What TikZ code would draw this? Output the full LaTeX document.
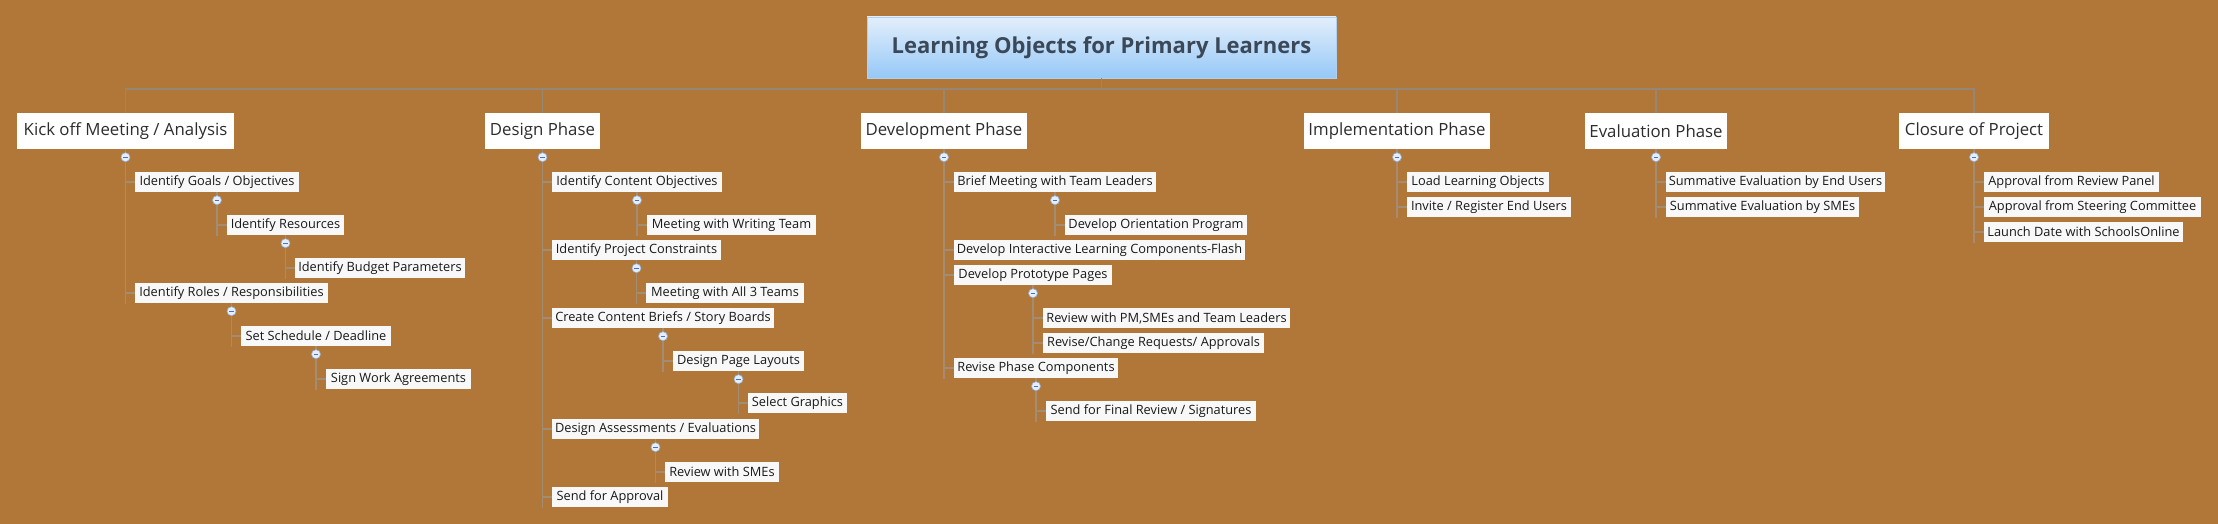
\documentclass[tikz,border=0pt]{standalone}
\usepackage{fontspec}
\setmainfont{Open Sans}
\definecolor{bg}{RGB}{176,119,56}
\definecolor{conncol}{RGB}{164,140,114}
\definecolor{barcol}{RGB}{150,134,116}
\definecolor{roottop}{RGB}{226,239,251}
\definecolor{rootbot}{RGB}{150,200,247}
\definecolor{rootborder}{RGB}{175,208,240}
\definecolor{roottext}{RGB}{58,72,88}
\definecolor{childfill}{RGB}{248,248,248}
\definecolor{childtext}{RGB}{25,25,25}
\definecolor{phasetext}{RGB}{45,45,45}
\definecolor{btnfill}{RGB}{228,238,252}
\definecolor{btnborder}{RGB}{150,175,215}
\definecolor{btnminus}{RGB}{70,115,190}
\tikzset{
  rootbox/.style={rectangle, draw=rootborder, line width=0.8pt, top color=roottop, bottom color=rootbot,
    text=roottext, font=\fontsize{22}{26}\selectfont\bfseries, inner sep=0pt},
  phasebox/.style={rectangle, fill=white, text=phasetext, font=\fontsize{16.8}{20}\selectfont,
    inner sep=0pt, minimum height=36pt},
  childbox/.style={rectangle, fill=childfill, text=childtext, font=\fontsize{12.8}{15}\selectfont,
    inner sep=0pt, minimum height=20pt},
  conn/.style={draw=conncol, line width=1.1pt},
  barconn/.style={draw=barcol, line width=1.4pt},
  btn/.style={circle, inner sep=0pt, minimum size=9pt, draw=btnborder, line width=0.6pt, fill=btnfill,
    path picture={\draw[btnminus, line width=1.1pt]
      ([xshift=-2.3pt]path picture bounding box.center) -- ([xshift=2.3pt]path picture bounding box.center);}}
}
\newcommand\mybox[6]{\node[#1, minimum width=#4pt-#3pt] (#2) at ({(#3+#4)/2},#5) {#6};}
\newcommand\kids[2]{% parent, last child
  \draw[conn] (#1.south) -- ([yshift=-1pt]#1.south |- #2.south);}
\newcommand\stub[2]{\draw[conn] (#1.south |- #2.west) -- (#2.west);}
\newcommand\mybtn[1]{\node[btn] at ([yshift=-8pt]#1.south) {};}
\begin{document}
\begin{tikzpicture}[x=1pt,y=-1pt]
\fill[bg] (0,0) rectangle (2218,524);
\useasboundingbox (0,0) rectangle (2218,524);

% root
\node[rootbox, minimum width=469pt, minimum height=61pt] (root) at (1101.5,47.5) {Learning Objects for Primary Learners};
\coordinate (bar) at (1101.5,89);

% phases
\mybox{phasebox}{kick}{17}{234}{131}{Kick off Meeting / Analysis}
\mybox{phasebox}{design}{485}{600}{131}{Design Phase}
\mybox{phasebox}{devel}{861}{1027}{131}{Development Phase}
\mybox{phasebox}{impl}{1304}{1490}{131}{Implementation Phase}
\mybox{phasebox}{evalp}{1585}{1727}{131}{Evaluation Phase}
\mybox{phasebox}{closure}{1899}{2049}{131}{Closure of Project}

% kick off children
\mybox{childbox}{k1}{135}{299}{182}{Identify Goals / Objectives}
\mybox{childbox}{k11}{227}{344}{225}{Identify Resources}
\mybox{childbox}{k111}{295}{465}{268}{Identify Budget Parameters}
\mybox{childbox}{k2}{135}{328}{293}{Identify Roles / Responsibilities}
\mybox{childbox}{k21}{241}{391}{336}{Set Schedule / Deadline}
\mybox{childbox}{k211}{326}{471}{379}{Sign Work Agreements}

% design children
\mybox{childbox}{d1}{552}{722}{182}{Identify Content Objectives}
\mybox{childbox}{d11}{647}{816}{225}{Meeting with Writing Team}
\mybox{childbox}{d2}{552}{721}{250}{Identify Project Constraints}
\mybox{childbox}{d21}{646}{804}{293}{Meeting with All 3 Teams}
\mybox{childbox}{d3}{552}{774}{318}{Create Content Briefs / Story Boards}
\mybox{childbox}{d31}{673}{804}{361}{Design Page Layouts}
\mybox{childbox}{d311}{748}{847}{403}{Select Graphics}
\mybox{childbox}{d4}{552}{759}{429}{Design Assessments / Evaluations}
\mybox{childbox}{d41}{665}{779}{472}{Review with SMEs}
\mybox{childbox}{d5}{552}{668}{497}{Send for Approval}

% development children
\mybox{childbox}{v1}{954}{1156}{182}{Brief Meeting with Team Leaders}
\mybox{childbox}{v11}{1065}{1247}{225}{Develop Orientation Program}
\mybox{childbox}{v2}{954}{1245}{250}{Develop Interactive Learning Components-Flash}
\mybox{childbox}{v3}{954}{1112}{275}{Develop Prototype Pages}
\mybox{childbox}{v31}{1043}{1290}{318}{Review with PM,SMEs and Team Leaders}
\mybox{childbox}{v32}{1043}{1264}{343}{Revise/Change Requests/ Approvals}
\mybox{childbox}{v4}{954}{1118}{368}{Revise Phase Components}
\mybox{childbox}{v41}{1046}{1256}{411}{Send for Final Review / Signatures}

% implementation children
\mybox{childbox}{i1}{1407}{1549}{182}{Load Learning Objects}
\mybox{childbox}{i2}{1407}{1571}{207}{Invite / Register End Users}

% evaluation children
\mybox{childbox}{e1}{1666}{1885}{182}{Summative Evaluation by End Users}
\mybox{childbox}{e2}{1666}{1859}{207}{Summative Evaluation by SMEs}

% closure children
\mybox{childbox}{c1}{1984}{2159}{182}{Approval from Review Panel}
\mybox{childbox}{c2}{1984}{2201}{207}{Approval from Steering Committee}
\mybox{childbox}{c3}{1984}{2183}{232}{Launch Date with SchoolsOnline}

% top bar and drops
\draw[barconn] (root.south) -- (bar);
\draw[barconn] (kick.north) -- (kick.north |- bar) -- (closure.north |- bar) -- (closure.north);
\foreach \p in {design,devel,impl,evalp}{\draw[barconn] (\p.north |- bar) -- (\p.north);}

% child connectors
\kids{kick}{k2}\stub{kick}{k1}\stub{kick}{k2}
\kids{k1}{k11}\stub{k1}{k11}
\kids{k11}{k111}\stub{k11}{k111}
\kids{k2}{k21}\stub{k2}{k21}
\kids{k21}{k211}\stub{k21}{k211}

\kids{design}{d5}
\foreach \c in {d1,d2,d3,d4,d5}{\stub{design}{\c}}
\kids{d1}{d11}\stub{d1}{d11}
\kids{d2}{d21}\stub{d2}{d21}
\kids{d3}{d31}\stub{d3}{d31}
\kids{d31}{d311}\stub{d31}{d311}
\kids{d4}{d41}\stub{d4}{d41}

\kids{devel}{v4}
\foreach \c in {v1,v2,v3,v4}{\stub{devel}{\c}}
\kids{v1}{v11}\stub{v1}{v11}
\kids{v3}{v32}\stub{v3}{v31}\stub{v3}{v32}
\kids{v4}{v41}\stub{v4}{v41}

\kids{impl}{i2}\stub{impl}{i1}\stub{impl}{i2}
\kids{evalp}{e2}\stub{evalp}{e1}\stub{evalp}{e2}
\kids{closure}{c3}\stub{closure}{c1}\stub{closure}{c2}\stub{closure}{c3}

% collapse buttons
\foreach \p in {kick,k1,k11,k2,k21,design,d1,d2,d3,d31,d4,devel,v1,v3,v4,impl,evalp,closure}{\mybtn{\p}}
\end{tikzpicture}
\end{document}
